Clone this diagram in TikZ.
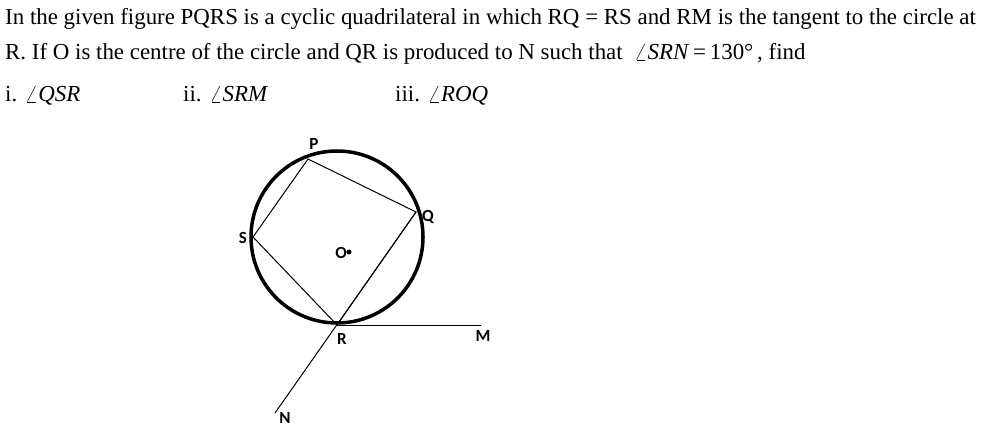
\documentclass[tikz,border=0pt]{standalone}
\usepackage{fontspec}
\setmainfont{Liberation Serif}
\newfontfamily\lblfont{Carlito}
\newcommand{\ang}{\ensuremath{\angle}}
\begin{document}
\begin{tikzpicture}[x=1pt,y=-1pt,
  txt/.style={anchor=base west,inner sep=0pt,font=\fontsize{22.9}{26}\selectfont},
  lbl/.style={inner sep=1pt,font=\lblfont\bfseries\fontsize{17}{19}\selectfont},
  thin/.style={line width=1pt}]
\useasboundingbox (0,0) rectangle (984,430);
\fill[white] (0,0) rectangle (984,430);
\node[txt] (t1) at (5,25) {In the given figure PQRS is a cyclic quadrilateral in which RQ = RS and RM is the tangent to the circle at};
\node[txt] (t2) at (5,60) {R. If O is the centre of the circle and QR is produced to N such that \ \ang\textit{SRN}\,=\,130°\,, find};
\node[txt] (t3) at (5,102) {i. \ang\textit{QSR}};
\node[txt] (t4) at (183,102) {ii. \ang\textit{SRM}};
\node[txt] (t5) at (395,102) {iii. \ang\textit{ROQ}};
\coordinate (P) at (308,159);
\coordinate (Q) at (416,212);
\coordinate (R) at (337,325);
\coordinate (S) at (253,237);
\coordinate (C) at (337,237);
\coordinate (M) at (481,325);
\coordinate (N) at (275,413);
\draw[line width=3.5pt] (C) circle[radius=86];
\draw[thin] (P)--(Q)--(R)--(S)--cycle;
\draw[thin] (Q)--(N);
\draw[thin] (R)--(M);
\fill (349,252) circle[radius=2.5];
\node[lbl] (lO) at (341,253) {O};
\node[lbl] (lP) at (314,144) {P};
\node[lbl] (lQ) at (428,217) {Q};
\node[lbl] (lS) at (243,238) {S};
\node[lbl] (lR) at (342,339) {R};
\node[lbl] (lM) at (483,336) {M};
\node[lbl] (lN) at (285,418) {N};
\end{tikzpicture}
\end{document}
